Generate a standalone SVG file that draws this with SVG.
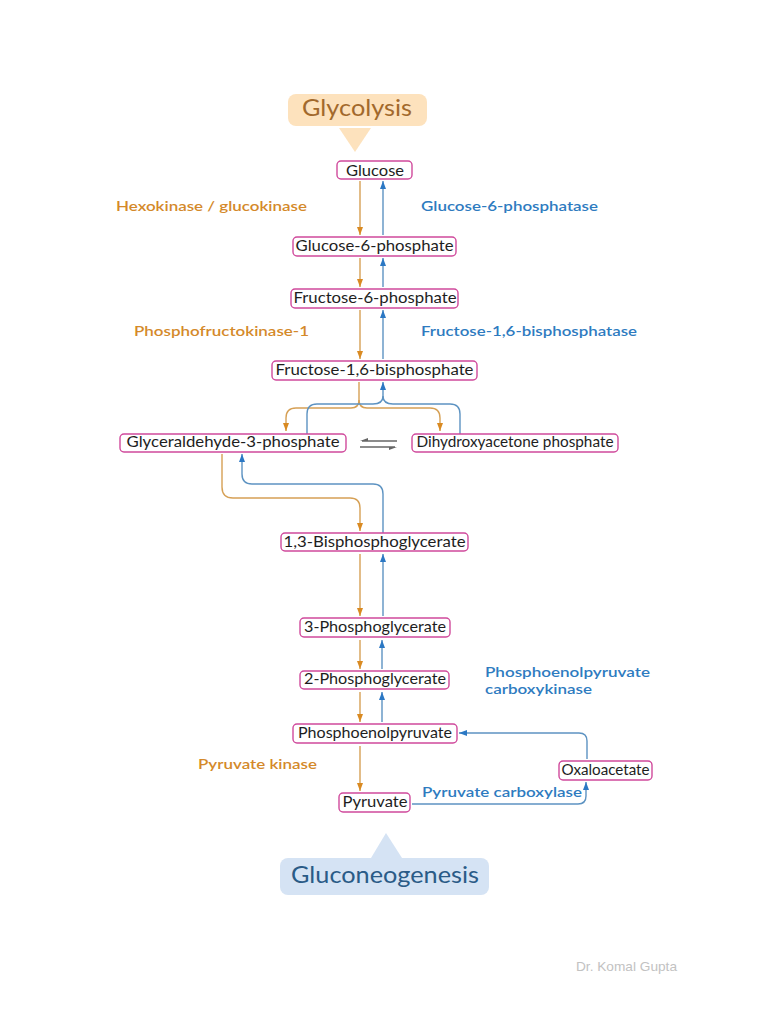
<svg xmlns="http://www.w3.org/2000/svg" width="768" height="1024" viewBox="0 0 768 1024">
<style>
.node rect{fill:#fff;stroke:#d04a9c;stroke-width:1.4}
.node text{font-family:Lato,"Open Sans","Liberation Sans",sans-serif;font-size:15px;fill:#1e1e1e;text-anchor:middle}
.lbl{font-family:Lato,"Open Sans","Liberation Sans",sans-serif;font-size:14px;font-weight:600}
.or{fill:#d4892a}
.bl{fill:#2e7bbf}
.co{fill:none;stroke:#d6a055;stroke-width:1.4}
.cb{fill:none;stroke:#5d93c2;stroke-width:1.4}
.title{font-family:Lato,"Open Sans","Liberation Sans",sans-serif;font-size:23px;text-anchor:middle}
</style>
<defs>
<marker id="ao" viewBox="0 0 8 6" refX="8" refY="3" markerWidth="8" markerHeight="6" markerUnits="userSpaceOnUse" orient="auto"><path d="M0,0 L8,3 L0,6 z" fill="#d98a22"/></marker>
<marker id="ab" viewBox="0 0 8 6" refX="8" refY="3" markerWidth="8" markerHeight="6" markerUnits="userSpaceOnUse" orient="auto"><path d="M0,0 L8,3 L0,6 z" fill="#2b78c4"/></marker>
</defs>
<rect width="768" height="1024" fill="#fff"/>

<g id="glycolysis">
<rect x="288" y="94" width="139" height="32" rx="8" fill="#fde2bd"/>
<polygon points="339,128 371,128 355,152" fill="#fde2bd"/>
<text class="title" x="357" y="116" fill="#a2692c" textLength="110" lengthAdjust="spacingAndGlyphs">Glycolysis</text>
</g>

<g id="gluconeogenesis">
<polygon points="371,858 402,858 386,833" fill="#d5e3f4"/>
<rect x="280" y="858" width="209" height="37" rx="8" fill="#d5e3f4"/>
<text class="title" x="385" y="883" fill="#2a5b87" textLength="188" lengthAdjust="spacingAndGlyphs">Gluconeogenesis</text>
</g>

<g id="connectors">
<path class="co" d="M360,181 V235" marker-end="url(#ao)"/>
<path class="cb" d="M383,235 V181" marker-end="url(#ab)"/>
<path class="co" d="M360,258 V287" marker-end="url(#ao)"/>
<path class="cb" d="M383,287 V258" marker-end="url(#ab)"/>
<path class="co" d="M360,310 V359" marker-end="url(#ao)"/>
<path class="cb" d="M383,359 V310" marker-end="url(#ab)"/>
<path class="co" d="M359,382 V400 Q359,408 351,408 H296 Q286,408 286,418 V431" marker-end="url(#ao)"/>
<path class="co" d="M359,400 Q359,408 367,408 H430 Q440,408 440,418 V431" marker-end="url(#ao)"/>
<path class="cb" d="M307,434 V414 Q307,404 317,404 H373 Q383,404 383,396 V382" marker-end="url(#ab)"/>
<path class="cb" d="M460,434 V414 Q460,404 450,404 H393 Q383,404 383,396"/>
<path class="co" d="M222,454 V487 Q222,498 233,498 H350 Q360,498 360,508 V531" marker-end="url(#ao)"/>
<path class="cb" d="M383,533 V494 Q383,484 373,484 H252 Q242,484 242,474 V454" marker-end="url(#ab)"/>
<path class="co" d="M360,554 V616" marker-end="url(#ao)"/>
<path class="cb" d="M383,616 V554" marker-end="url(#ab)"/>
<path class="co" d="M360,640 V669" marker-end="url(#ao)"/>
<path class="cb" d="M382,669 V640" marker-end="url(#ab)"/>
<path class="co" d="M360,692 V722" marker-end="url(#ao)"/>
<path class="cb" d="M382,722 V692" marker-end="url(#ab)"/>
<path class="co" d="M360,746 V791" marker-end="url(#ao)"/>
<path class="cb" d="M412,804 H578 Q586,804 586,796 V782" marker-end="url(#ab)"/>
<path class="cb" d="M587,759 V741 Q587,733 579,733 H459" marker-end="url(#ab)"/>
<g id="equilibrium" stroke="#666" stroke-width="1.4" fill="#666">
<line x1="397" y1="441" x2="362" y2="441"/>
<polygon points="360,441 368,438 368,441" stroke="none"/>
<line x1="360" y1="447" x2="395" y2="447"/>
<polygon points="397,447 389,450 389,447" stroke="none"/>
</g>
</g>

<g id="labels">
<text class="lbl or" x="116" y="211" textLength="191" lengthAdjust="spacingAndGlyphs">Hexokinase / glucokinase</text>
<text class="lbl bl" x="421" y="211" textLength="177" lengthAdjust="spacingAndGlyphs">Glucose-6-phosphatase</text>
<text class="lbl or" x="134" y="336" textLength="175" lengthAdjust="spacingAndGlyphs">Phosphofructokinase-1</text>
<text class="lbl bl" x="421" y="336" textLength="216" lengthAdjust="spacingAndGlyphs">Fructose-1,6-bisphosphatase</text>
<text class="lbl bl" x="485" y="677" textLength="165" lengthAdjust="spacingAndGlyphs">Phosphoenolpyruvate</text>
<text class="lbl bl" x="485" y="694" textLength="107" lengthAdjust="spacingAndGlyphs">carboxykinase</text>
<text class="lbl or" x="198" y="769" textLength="119" lengthAdjust="spacingAndGlyphs">Pyruvate kinase</text>
<text class="lbl bl" x="422" y="797" textLength="160" lengthAdjust="spacingAndGlyphs">Pyruvate carboxylase</text>
</g>

<g id="n-glucose" class="node"><rect x="337" y="161" width="75" height="18" rx="4"/><text x="375" y="176" textLength="58" lengthAdjust="spacingAndGlyphs">Glucose</text></g>
<g id="n-g6p" class="node"><rect x="293" y="237" width="163" height="19" rx="4"/><text x="374.5" y="251" textLength="158" lengthAdjust="spacingAndGlyphs">Glucose-6-phosphate</text></g>
<g id="n-f6p" class="node"><rect x="291" y="289" width="167" height="19" rx="4"/><text x="375" y="303" textLength="163" lengthAdjust="spacingAndGlyphs">Fructose-6-phosphate</text></g>
<g id="n-f16bp" class="node"><rect x="272" y="361" width="205" height="19" rx="4"/><text x="374.5" y="375" textLength="198" lengthAdjust="spacingAndGlyphs">Fructose-1,6-bisphosphate</text></g>
<g id="n-g3p" class="node"><rect x="120" y="434" width="226" height="18" rx="4"/><text x="233" y="447" textLength="213" lengthAdjust="spacingAndGlyphs">Glyceraldehyde-3-phosphate</text></g>
<g id="n-dhap" class="node"><rect x="412" y="434" width="206" height="18" rx="4"/><text x="515" y="447" textLength="197" lengthAdjust="spacingAndGlyphs">Dihydroxyacetone phosphate</text></g>
<g id="n-13bpg" class="node"><rect x="281" y="533" width="187" height="18" rx="4"/><text x="374.5" y="547" textLength="182" lengthAdjust="spacingAndGlyphs">1,3-Bisphosphoglycerate</text></g>
<g id="n-3pg" class="node"><rect x="300" y="618" width="150" height="19" rx="4"/><text x="375" y="632" textLength="142" lengthAdjust="spacingAndGlyphs">3-Phosphoglycerate</text></g>
<g id="n-2pg" class="node"><rect x="300" y="671" width="149" height="18" rx="4"/><text x="375" y="684" textLength="142" lengthAdjust="spacingAndGlyphs">2-Phosphoglycerate</text></g>
<g id="n-pep" class="node"><rect x="293" y="724" width="164" height="19" rx="4"/><text x="375" y="738" textLength="154" lengthAdjust="spacingAndGlyphs">Phosphoenolpyruvate</text></g>
<g id="n-oaa" class="node"><rect x="559" y="761" width="93" height="19" rx="4"/><text x="605.5" y="775" textLength="88" lengthAdjust="spacingAndGlyphs">Oxaloacetate</text></g>
<g id="n-pyr" class="node"><rect x="339" y="793" width="71" height="19" rx="4"/><text x="375" y="807" textLength="65" lengthAdjust="spacingAndGlyphs">Pyruvate</text></g>

<text x="576" y="971" font-family="'Liberation Sans',Arial,sans-serif" font-size="13" fill="#c2c2c2" textLength="101" lengthAdjust="spacingAndGlyphs">Dr. Komal Gupta</text>
</svg>
